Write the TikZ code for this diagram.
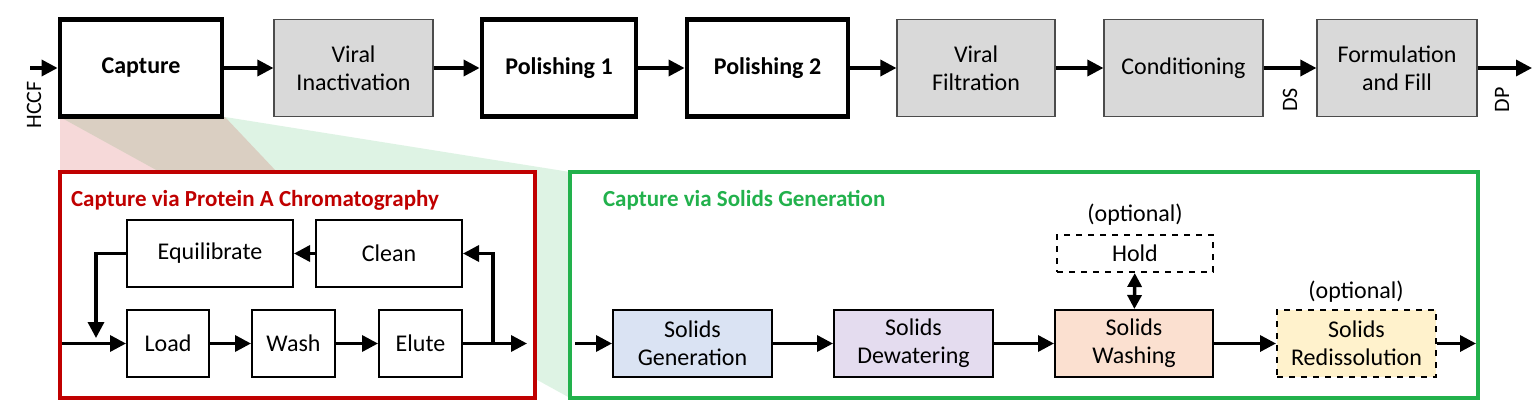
\documentclass[tikz,border=0pt]{standalone}
\usepackage{fontspec}
\setmainfont{Carlito}
\usetikzlibrary{arrows.meta}
\definecolor{gbox}{HTML}{D9D9D9}
\definecolor{rr}{HTML}{C00000}
\definecolor{gg}{HTML}{22B14C}
\definecolor{cblue}{HTML}{DAE3F3}
\definecolor{clav}{HTML}{E4DCEF}
\definecolor{cpeach}{HTML}{FBE0D0}
\definecolor{cyel}{HTML}{FFF2CC}
\begin{document}
\begin{tikzpicture}[x=0.5pt,y=-0.5pt,
  arr/.style={line width=1.7pt,-{Triangle[length=8pt,width=8pt]}},
  thick box/.style={draw,line width=2.4pt,font=\fontsize{12}{14}\selectfont\bfseries,align=center},
  gray box/.style={draw=black!70,fill=gbox,line width=0.6pt,font=\fontsize{12}{14}\selectfont,align=center},
  sb/.style={draw,line width=1pt,font=\fontsize{12}{14}\selectfont,align=center},
  lbl/.style={font=\fontsize{11}{13}\selectfont}]
\useasboundingbox (0,0) rectangle (1537,412);
% funnels
\fill[gg,opacity=0.15] (60,117) -- (225,117) -- (570,172) -- (570,398) -- cycle;
\fill[rr,opacity=0.15] (60,117) -- (225,117) -- (277,172) -- (60,172) -- cycle;
% top row
\node[thick box,minimum width=81pt,minimum height=48.5pt] (cap) at (141,68) {Capture};
\node[gray box,minimum width=79.5pt,minimum height=48.5pt] (vi) at (353.5,68) {Viral\\Inactivation};
\node[thick box,minimum width=77pt,minimum height=48.5pt] (p1) at (559,68) {Polishing 1};
\node[thick box,minimum width=80.5pt,minimum height=48.5pt] (p2) at (767.5,68) {Polishing 2};
\node[gray box,minimum width=79pt,minimum height=48.5pt] (vf) at (976,68) {Viral\\Filtration};
\node[gray box,minimum width=79.5pt,minimum height=48.5pt] (cond) at (1183.5,68) {Conditioning};
\node[gray box,minimum width=80pt,minimum height=48.5pt] (ff) at (1397,68) {Formulation\\and Fill};
\coordinate (in) at (30,68);
\coordinate (out) at (1532,68);
\draw[arr] (in) -- (cap);
\draw[arr] (cap) -- (vi);
\draw[arr] (vi) -- (p1);
\draw[arr] (p1) -- (p2);
\draw[arr] (p2) -- (vf);
\draw[arr] (vf) -- (cond);
\draw[arr] (cond) -- (ff);
\draw[arr] (ff) -- (out);
\node[lbl,rotate=90] (hccf) at (34,105) {HCCF};
\node[lbl,rotate=90] (ds) at (1290,100) {DS};
\node[lbl,rotate=90] (dp) at (1502,100) {DP};
% red box
\node[draw=rr,line width=2pt,minimum width=237.5pt,minimum height=113pt,fill=white] (rbox) at (297.5,285) {};
\node[anchor=west,text=rr,font=\fontsize{11.5}{13}\selectfont\bfseries] (rt) at (64,200) {Capture via Protein A Chromatography};
\node[sb,minimum width=83pt,minimum height=33.5pt] (eq) at (210,253.5) {Equilibrate};
\node[sb,minimum width=73pt,minimum height=33.5pt] (cl) at (389,253.5) {Clean};
\node[sb,minimum width=41pt,minimum height=33.5pt] (ld) at (168,343.5) {Load};
\node[sb,minimum width=41.5pt,minimum height=33.5pt] (wa) at (293.5,343.5) {Wash};
\node[sb,minimum width=41.5pt,minimum height=33.5pt] (el) at (420.5,343.5) {Elute};
\coordinate (rin) at (62,343.5);
\coordinate (rout) at (527,343.5);
\coordinate (jn) at (493,343.5);
\draw[arr] (rin) -- (ld);
\draw[arr] (ld) -- (wa);
\draw[arr] (wa) -- (el);
\draw[arr] (el) -- (rout);
\draw[arr] (jn) |- (cl.east);
\draw[arr] (cl) -- (eq);
\draw[arr] (eq.west) -| (96,338);
% green box
\node[draw=gg,line width=2pt,minimum width=454pt,minimum height=113pt] (gbx) at (1024,285) {};
\node[anchor=west,text=gg,font=\fontsize{11.5}{13}\selectfont\bfseries] (gt) at (596,200) {Capture via Solids Generation};
\node[sb,fill=cblue,minimum width=79.5pt,minimum height=33.5pt] (sg) at (692.5,343.5) {Solids\\Generation};
\node[sb,fill=clav,minimum width=79.5pt,minimum height=33.5pt] (sd) at (913.5,343.5) {Solids\\Dewatering};
\node[sb,fill=cpeach,minimum width=79pt,minimum height=33.5pt] (sw) at (1134,343.5) {Solids\\Washing};
\node[sb,dashed,fill=cyel,minimum width=79.5pt,minimum height=33.5pt] (sr) at (1356.5,343.5) {Solids\\Redissolution};
\node[sb,dashed,minimum width=78pt,minimum height=18.5pt] (hold) at (1135,253.5) {Hold};
\node[font=\fontsize{12}{14}\selectfont] (o1) at (1135,215) {(optional)};
\node[font=\fontsize{12}{14}\selectfont] (o2) at (1356,292) {(optional)};
\coordinate (gin) at (575,343.5);
\coordinate (gout) at (1476,343.5);
\draw[arr] (gin) -- (sg);
\draw[arr] (sg) -- (sd);
\draw[arr] (sd) -- (sw);
\draw[arr] (sw) -- (sr);
\draw[arr] (sr) -- (gout);
\draw[line width=1.7pt,{Triangle[length=7pt,width=7pt]}-{Triangle[length=7pt,width=7pt]}] (hold) -- (sw);
\end{tikzpicture}
\end{document}
